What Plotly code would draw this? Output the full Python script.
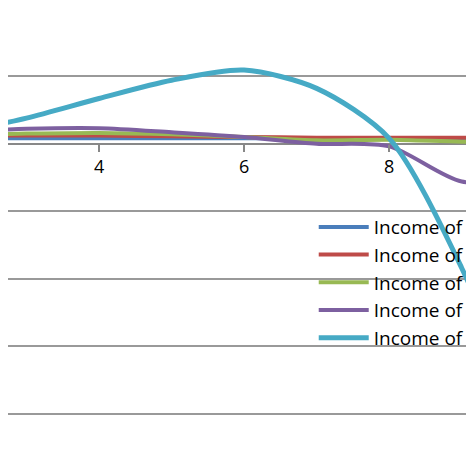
import plotly.graph_objects as go

x = [2, 3, 4, 5, 6, 7, 8, 9, 10]
names = ["Income of R", "Income of R", "Income of R", "Income of R", "Income of R"]
blue = [0.08, 0.08, 0.08, 0.08, 0.08, 0.08, 0.08, 0.08, 0.08]
red = [0.12, 0.12, 0.12, 0.11, 0.1, 0.09, 0.09, 0.09, 0.09]
green = [0.13, 0.15, 0.16, 0.14, 0.1, 0.05, 0.06, 0.03, 0.02]
purple = [0.17, 0.22, 0.23, 0.17, 0.1, 0.0, -0.04, -0.56, -0.5]
cyan = [0.15, 0.38, 0.67, 0.94, 1.09, 0.82, 0.08, -1.84, -4.5]

series = [blue, red, green, purple, cyan]
colors = ["#4a7ebb", "#be4b48", "#98b954", "#7d60a0", "#46aac5"]
widths = [4, 4, 4, 4, 5]

fig = go.Figure()
for n, s, c, w in zip(names, series, colors, widths):
    fig.add_trace(go.Scatter(x=x, y=s, name=n, mode="lines",
                             line=dict(color=c, width=w, shape="spline", smoothing=0.8)))

fig.update_layout(
    width=474, height=474,
    margin=dict(l=0, r=0, t=0, b=0, autoexpand=False),
    plot_bgcolor="white", paper_bgcolor="white",
    font=dict(family="Open Sans", size=18, color="black"),
    legend=dict(x=0.645, y=0.578, xanchor="left", yanchor="top",
                bgcolor="rgba(0,0,0,0)", tracegroupgap=0, itemwidth=50,
                font=dict(size=19)),
    xaxis=dict(range=[2.745, 9.28], dtick=2, tick0=0, showgrid=False, zeroline=False,
               anchor="free", position=0.714, showline=False,
               ticks="outside", ticklen=7, tickcolor="#888", tickwidth=1.5),
    yaxis=dict(range=[-5.01, 2.01], dtick=1, showgrid=True, gridcolor="#999",
               gridwidth=2, zeroline=True, zerolinecolor="#888", zerolinewidth=1.5,
               showticklabels=False),
)

fig.write_html("out.html")
